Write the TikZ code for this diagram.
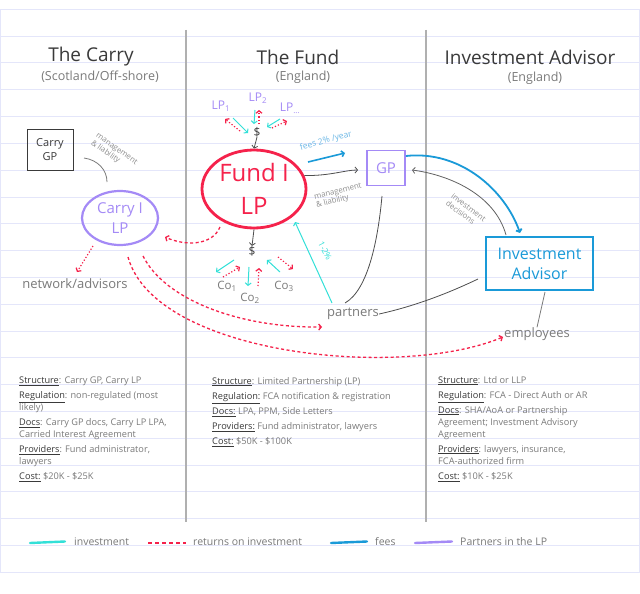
\documentclass[tikz,border=0pt]{standalone}
\usepackage{fontspec}
\setmainfont{Open Sans}
\usetikzlibrary{arrows.meta,shapes.geometric}
\definecolor{cyanc}{HTML}{33E0D8}
\definecolor{redc}{HTML}{F5224B}
\definecolor{bluec}{HTML}{1A9AD8}
\definecolor{feec}{HTML}{6DB8E6}
\definecolor{purc}{HTML}{A48AF6}
\definecolor{grayt}{HTML}{7A7A7A}
\definecolor{darkt}{HTML}{3A3A3A}
\definecolor{rulec}{HTML}{E4E6FA}
\definecolor{divc}{HTML}{B0B0B0}
\newcommand{\ulab}[1]{{\color{darkt}\underline{#1}}}
\begin{document}
\begin{tikzpicture}[x=1pt,y=-1pt,
  tip/.style={-{Straight Barb[length=2.5pt,width=6pt]}},
  hdg/.style={text=darkt,font=\fontsize{19}{22}\selectfont,inner sep=0},
  subh/.style={text=grayt,font=\fontsize{12.5}{15}\selectfont,inner sep=0},
  lbl/.style={text=grayt,font=\fontsize{13}{15}\selectfont,inner sep=0},
  small/.style={text=grayt,font=\fontsize{11.5}{13}\selectfont,inner sep=0},
  anno/.style={text=grayt!85,font=\fontsize{7.8}{8.8}\selectfont,inner sep=0,align=left},
  inv/.style={cyanc,line width=1pt,tip},
  ret/.style={redc,line width=1.2pt,dotted,tip},
  retd/.style={redc,line width=1.3pt,dash pattern=on 3pt off 2.5pt,tip},
  conn/.style={darkt!90,line width=0.8pt},
  info/.style={text=grayt,font=\fontsize{9.2}{12}\selectfont,align=left,anchor=north west,inner sep=0},
  legt/.style={text=grayt,font=\fontsize{10.5}{12}\selectfont,anchor=west,inner sep=0}
]
\useasboundingbox (0,0) rectangle (640,594);
\fill[white] (0,0) rectangle (640,594);
% ruled paper
\foreach \k in {0,...,21} \draw[rulec,line width=0.8pt] (0,{9.3+26.8*\k}) -- (639.5,{9.3+26.8*\k});
\draw[rulec,line width=0.8pt] (0.5,9.3) -- (0.5,572.1);
\draw[rulec,line width=0.8pt] (639,9.3) -- (639,572.1);
\draw[divc,line width=1.2pt] (186,30) -- (186,522);
\draw[divc,line width=1.2pt] (426,30) -- (426,522);

% headings
\node[hdg] (h1) at (91,57) {The Carry};
\node[subh] (s1) at (100,77) {(Scotland/Off-shore)};
\node[hdg] (h2) at (298,57) {The Fund};
\node[subh] (s2) at (303,77) {(England)};
\node[hdg] (h3) at (530,57) {Investment Advisor};
\node[subh] (s3) at (535,78) {(England)};

% Carry column
\node[draw=darkt,line width=0.8pt,minimum width=46pt,minimum height=41pt,align=center,
  text=darkt,font=\fontsize{11}{14}\selectfont,inner sep=0] (cgp) at (50,150) {Carry\\GP};
\node[anno,rotate=-35] (cml) at (114,153) {management\\\& liability};
\node[ellipse,draw=purc,line width=2.2pt,minimum width=76pt,minimum height=54pt,inner sep=0,
  text=purc,align=center,font=\fontsize{15}{20}\selectfont] (cilp) at (120,218) {Carry I\\LP};
\node[lbl] (net) at (75,284) {network/advisors};
\coordinate (ca1) at (84,158);
\coordinate (ca2) at (107,182);
\draw[conn,grayt] (ca1) .. controls (98,160) and (107,170) .. (ca2);
\coordinate (n1) at (93,246);
\coordinate (n2) at (77,272);
\draw[ret] (n1) -- (n2);

% Fund column
\node[ellipse,draw=redc,line width=2.8pt,minimum width=104pt,minimum height=78pt,inner sep=0,
  text=redc,align=center,font=\fontsize{24}{33}\selectfont] (fund) at (254,189) {Fund I\\LP};
\node[text=darkt,font=\fontsize{12}{14}\selectfont,inner sep=0] (d1) at (257,132) {\$};
\node[text=darkt,font=\fontsize{12}{14}\selectfont,inner sep=0] (d2) at (252,251) {\$};
\node[text=purc,font=\fontsize{12}{14}\selectfont,inner sep=0] (lp1) at (221,106) {LP\textsubscript{1}};
\node[text=purc,font=\fontsize{12}{14}\selectfont,inner sep=0] (lp2) at (258,98) {LP\textsubscript{2}};
\node[text=purc,font=\fontsize{12}{14}\selectfont,inner sep=0] (lp3) at (290,108) {LP\textsubscript{...}};
\node[small] (co1) at (227,286) {Co\textsubscript{1}};
\node[small] (co2) at (250,298) {Co\textsubscript{2}};
\node[small] (co3) at (284,286) {Co\textsubscript{3}};
\draw[conn,tip] (d1.south) -- (fund.north);
\draw[conn,tip] (fund.south) -- (d2.north);
% LP flows
\draw[inv] (233,118) -- (248,133);
\draw[ret] (240,131) -- (225,119);
\draw[inv] (255,110) -- (254,124);
\draw[ret] (259,124) -- (259,110);
\draw[inv] (280,119) -- (267,127);
\draw[ret] (272,128) -- (287,121);
% Co flows
\draw[inv] (234,260) -- (216,272);
\draw[ret] (223,277) -- (240,267);
\draw[inv] (249,267) -- (248,286);
\draw[ret] (258,286) -- (259,268);
\draw[inv] (280,272) -- (267,260);
\draw[ret] (278,257) -- (293,269);

% GP
\node[draw=purc,line width=1.8pt,minimum width=38pt,minimum height=35pt,inner sep=0,
  text=purc,font=\fontsize{15}{18}\selectfont] (gp) at (386,168) {GP};
\node[anno,rotate=14] (fml) at (339,196) {management\\\& liability};
\node[text=feec,font=\fontsize{8.5}{10}\selectfont,inner sep=0,rotate=15] (feel) at (326,141) {fees 2\% /year};
\draw[bluec,line width=1.6pt,tip] (308,162) -- (345,153);
\draw[conn,tip] (fund.15) .. controls (330,176) and (345,170) .. (358,170);
\node[lbl] (part) at (353,314) {partners};
\coordinate (pc) at (332,303);
\draw[conn] (382,196) .. controls (378,240) and (368,290) .. (345,303);
\draw[inv] (pc) -- (295,222);
\node[text=cyanc,font=\fontsize{8.5}{10}\selectfont,inner sep=0,rotate=-63] (pct) at (325,251) {1-2\%};

% Investment Advisor
\node[draw=bluec,line width=1.6pt,minimum width=107pt,minimum height=53pt,inner sep=0,
  text=bluec,align=center,font=\fontsize{16}{20}\selectfont] (ia) at (539.5,263.5) {Investment\\Advisor};
\node[lbl] (emp) at (537,334) {employees};
\draw[bluec,line width=1.8pt,tip] (gp.east |- 0,156) .. controls (460,150) and (505,190) .. (520,233);
\draw[conn,grayt!80!black,tip] (506,235) .. controls (495,195) and (450,175) .. (412,170);
\node[anno,rotate=-37] (idl) at (466,211) {investment\\decisions};
\draw[conn] (part.east) .. controls (420,305) and (455,290) .. (478,279);
\draw[conn,grayt] (545,292) -- (emp.north);

% returns
\draw[retd] (220,227) .. controls (212,246) and (185,246) .. (165,237);
\draw[retd] (143,256) .. controls (165,300) and (240,328) .. (322,327);
\draw[retd] (128,257) .. controls (155,355) and (400,380) .. (503,337);

% info blocks
\node[info] (i1) at (19,377) {\ulab{Structure}: Carry GP, Carry LP\\[3pt]
\ulab{Regulation}: non-regulated (most\\likely)\\[3pt]
\ulab{Docs}: Carry GP docs, Carry LP LPA,\\Carried Interest Agreement\\[3pt]
\ulab{Providers}: Fund administrator,\\lawyers\\[3pt]
\ulab{Cost:} \$20K - \$25K};
\node[info] (i2) at (212,377) {\ulab{Structure}: Limited Partnership (LP)\\[3pt]
\ulab{Regulation:} FCA notification \& registration\\[3pt]
\ulab{Docs:}  LPA, PPM, Side Letters\\[3pt]
\ulab{Providers:} Fund administrator, lawyers\\[3pt]
\ulab{Cost:} \$50K - \$100K};
\node[info] (i3) at (438,376) {\ulab{Structure}:  Ltd or LLP\\[3pt]
\ulab{Regulation}: FCA - Direct Auth or AR\\[3pt]
\ulab{Docs}: SHA/AoA or Partnership\\Agreement; Investment Advisory\\Agreement\\[3pt]
\ulab{Providers}: lawyers, insurance,\\FCA-authorized firm\\[3pt]
\ulab{Cost:} \$10K - \$25K};

% legend
\draw[cyanc,line width=2.4pt,line cap=round] (30,543) -- (65,541.5);
\node[legt] (l1) at (74,542) {investment};
\draw[redc,line width=2pt,dash pattern=on 4pt off 3pt] (148,542.5) -- (186,542.5);
\node[legt] (l2) at (193,542) {returns on investment};
\draw[bluec,line width=2.4pt,line cap=round] (331,543) -- (367,541.5);
\node[legt] (l3) at (375,542) {fees};
\draw[purc,line width=2.4pt,line cap=round] (415,543) -- (452,541.5);
\node[legt] (l4) at (460,542) {Partners in the LP};
\end{tikzpicture}
\end{document}
